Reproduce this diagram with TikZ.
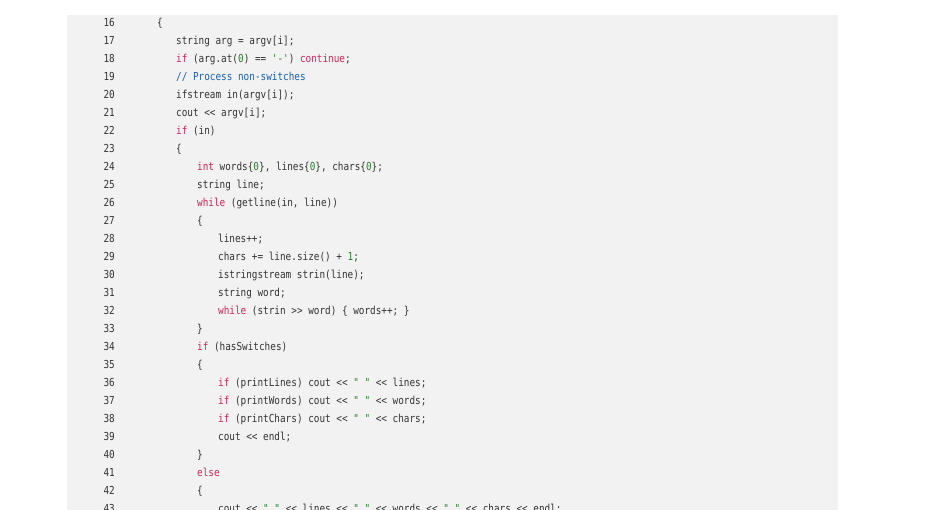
\documentclass[tikz,border=0pt]{standalone}
\usepackage{fontspec}
\newfontfamily\code[FakeStretch=0.85]{DejaVu Sans Mono}
\definecolor{bgc}{HTML}{F2F2F2}
\definecolor{txt}{HTML}{333333}
\definecolor{kwc}{HTML}{D0245A}
\definecolor{nmc}{HTML}{2E7D32}
\definecolor{cmc}{HTML}{1A5FB4}
\newcommand\kw[1]{\textcolor{kwc}{#1}}
\newcommand\nm[1]{\textcolor{nmc}{#1}}
\newcommand\cm[1]{\textcolor{cmc}{#1}}
\begin{document}
\begin{tikzpicture}[x=1pt,y=-1pt,
  codeline/.style={anchor=mid west,inner sep=0pt,font=\code\fontsize{11}{13}\selectfont,text=txt},
  lnum/.style={anchor=mid east,inner sep=0pt,font=\code\fontsize{11}{13}\selectfont,text=txt}]
\useasboundingbox (0,0) rectangle (931,509);
\clip (0,0) rectangle (931,509);
\fill[bgc] (67,15) rectangle (838,520);
\foreach \n/\lv/\t [count=\i from 0] in {
16/157/\{,
17/176/string arg = argv[i];,
18/176/{\kw{if} (arg.at(\nm{0}) == \nm{'-'}) \kw{continue};},
19/176/\cm{// Process non-switches},
20/176/ifstream in(argv[i]);,
21/176/cout << argv[i];,
22/176/{\kw{if} (in)},
23/176/\{,
24/197/{\kw{int} words\{\nm{0}\}, lines\{\nm{0}\}, chars\{\nm{0}\};},
25/197/string line;,
26/197/{\kw{while} (getline(in, line))},
27/197/\{,
28/218/lines++;,
29/218/{chars += line.size() + \nm{1};},
30/218/istringstream strin(line);,
31/218/string word;,
32/218/{\kw{while} (strin >> word) \{ words++; \}},
33/197/\},
34/197/{\kw{if} (hasSwitches)},
35/197/\{,
36/218/{\kw{if} (printLines) cout << \nm{" "} << lines;},
37/218/{\kw{if} (printWords) cout << \nm{" "} << words;},
38/218/{\kw{if} (printChars) cout << \nm{" "} << chars;},
39/218/cout << endl;,
40/197/\},
41/197/\kw{else},
42/197/\{,
43/218/{cout << \nm{" "} << lines << \nm{" "} << words << \nm{" "} << chars << endl;}}
{
  \node[lnum] (n\n) at (115,{24+18*\i}) {\n};
  \node[codeline] (c\n) at (\lv,{24+18*\i}) {\t};
}
\end{tikzpicture}
\end{document}
